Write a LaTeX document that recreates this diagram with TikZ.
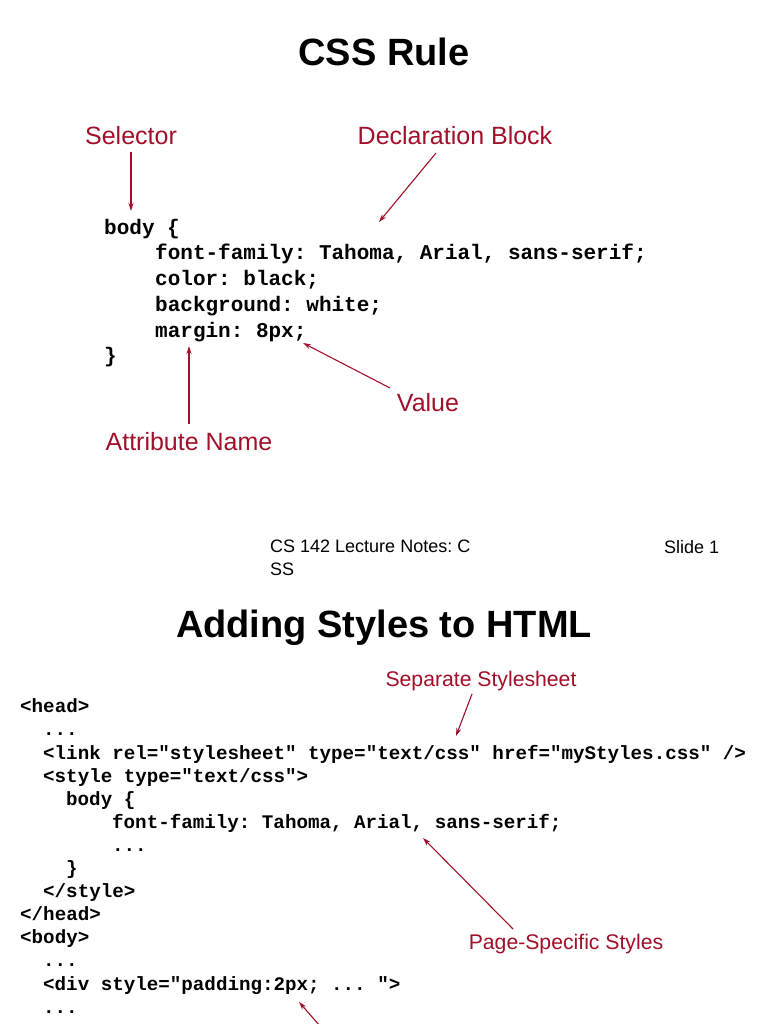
\documentclass[tikz,border=0pt]{standalone}
\usepackage{fontspec}
\setmainfont{Liberation Sans}
\newfontfamily\codefont{Liberation Mono}
\usetikzlibrary{positioning,arrows.meta}
\definecolor{notered}{HTML}{A0102A}
\frenchspacing
\tikzset{note/.style={text=notered,font=\fontsize{25}{27}\selectfont,inner sep=0pt},
  code/.style={anchor=base west,inner sep=0pt,yshift=-6pt,font=\codefont\bfseries\fontsize{21}{21}\selectfont},
  smallcode/.style={anchor=base west,inner sep=0pt,yshift=-5pt,font=\codefont\bfseries\fontsize{19.2}{19}\selectfont},
  title/.style={font=\bfseries\fontsize{38}{40}\selectfont,inner sep=0pt},
  pointer/.style={draw=notered,line width=1.1pt,-{Stealth[length=8pt,width=5pt]}},}
\begin{document}
\begin{tikzpicture}[x=1pt,y=-1pt]
	\useasboundingbox[fill=white] (0,0) rectangle (768,1024);

	% first slide
	\node[title] (t1) at (384,52) {CSS Rule};
	\node[code] (c1) at (104,228) {body \{};
	\node[code] (c2) at (155,253) {font-family: Tahoma, Arial, sans-serif;};
	\node[code] (c3) at (155,279) {color: black;};
	\node[code] (c4) at (155,305) {background: white;};
	\node[code] (c5) at (155,331) {margin: 8px;};
	\node[code] (c6) at (104,356) {\}};

	\node[note] (sel) at (131,136) {Selector};
	\node[note] (decl) at (455,136) {Declaration Block};
	\node[note] (val) at (428,403) {Value};
	\node[note] (attr) at (189,442) {Attribute Name};

	\coordinate (selend) at (131,211);
	\coordinate (declend) at (379,222);
	\coordinate (attrend) at (189,346);
	\coordinate (valend) at (303,343);
	\draw[pointer] (131,152) -- (selend);
	\draw[pointer] (436,153) -- (declend);
	\draw[pointer] (189,424) -- (attrend);
	\draw[pointer] (390,388) -- (valend);

	\node[anchor=west,inner sep=0pt,font=\fontsize{18}{23}\selectfont,align=left] (foot) at (270,558) {CS 142 Lecture Notes: C\\SS};
	\node[anchor=west,inner sep=0pt,font=\fontsize{18}{23}\selectfont] (slide) at (664,547) {Slide 1};

	% second slide
	\node[title] (t2) at (384,628) {Adding Styles to HTML};
	\node[smallcode] (h1) at (20,707) {<head>};
	\node[smallcode] (h2) at (43,730) {...};
	\node[smallcode] (h3) at (43,754) {<link rel="stylesheet" type="text/css" href="myStyles.css" />};
	\node[smallcode] (h4) at (43,777) {<style type="text/css">};
	\node[smallcode] (h5) at (66,800) {body \{};
	\node[smallcode] (h6) at (112,823) {font-family: Tahoma, Arial, sans-serif;};
	\node[smallcode] (h7) at (112,846) {...};
	\node[smallcode] (h8) at (66,869) {\}};
	\node[smallcode] (h9) at (43,892) {</style>};
	\node[smallcode] (h10) at (20,915) {</head>};
	\node[smallcode] (h11) at (20,938) {<body>};
	\node[smallcode] (h12) at (43,961) {...};
	\node[smallcode] (h13) at (43,985) {<div style="padding:2px; ... ">};
	\node[smallcode] (h14) at (43,1008) {...};

	\node[note,font=\fontsize{21.2}{23}\selectfont] (sep) at (481,681) {Separate Stylesheet};
	\node[note,font=\fontsize{21.2}{23}\selectfont] (page) at (566,944) {Page-Specific Styles};

	\coordinate (sepend) at (456,736);
	\coordinate (pageend) at (423,838);
	\coordinate (divstart) at (320,1026);
	\coordinate (divend) at (299,1002);
	\draw[pointer] (472,694) -- (sepend);
	\draw[pointer] (513,929) -- (pageend);
	\draw[pointer] (divstart) -- (divend);
\end{tikzpicture}
\end{document}
